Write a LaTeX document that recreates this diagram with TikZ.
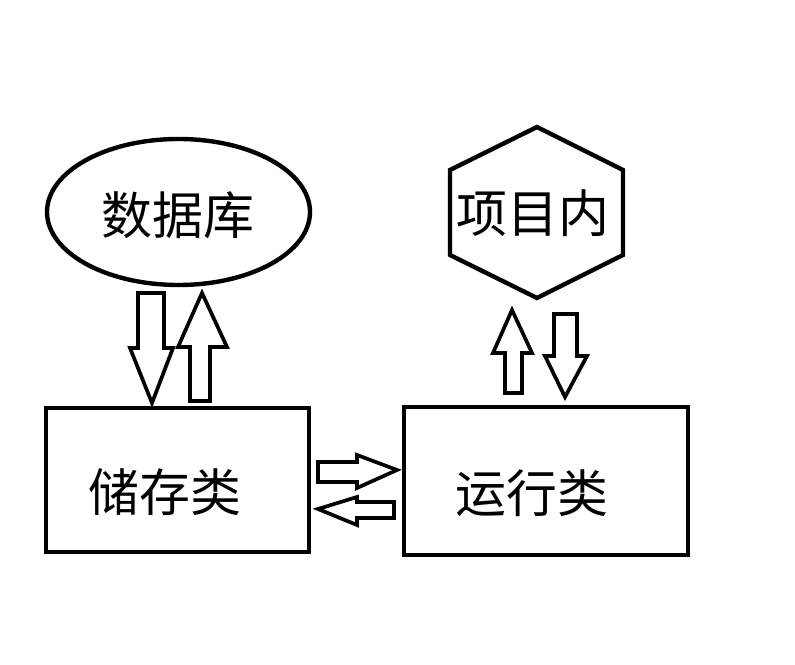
\documentclass[tikz,border=0pt]{standalone}
\usepackage{fontspec}
\newfontfamily\cjk{Noto Sans CJK SC}
\tikzset{
  shapeline/.style={black, line width=2.5pt},
  blockarrow/.style={black, line width=2.1pt, line join=miter},
  label/.style={font=\cjk\fontsize{29}{29}\selectfont, inner sep=0pt},
}
\begin{document}
\begin{tikzpicture}[x=0.02cm, y=-0.02cm]
  \useasboundingbox (0,0) rectangle (795,665);
  % shapes
  \draw[shapeline] (178.5,212) ellipse [x radius=131.5, y radius=73];
  \draw[shapeline]
    (537,127) -- (623,170) -- (623,255) -- (537,298) -- (450,255) -- (450,170) -- cycle;
  \draw[shapeline] (46,408) rectangle (309,552);
  \draw[shapeline] (404,407) rectangle (688,555);
  % texts
  \node[label] (db) at (178,215) {数据库};
  \node[label] (proj) at (533,213) {项目内};
  \node[label] (store) at (165,492) {储存类};
  \node[label] (run) at (532,493) {运行类};
  % block arrows, left pair
  \draw[blockarrow]
    (138,293) -- (164,293) -- (164,348) -- (173,348) -- (152,403)
    -- (130,348) -- (138,348) -- cycle;
  \draw[blockarrow]
    (190,401) -- (210,401) -- (210,347) -- (227,347) -- (202,293)
    -- (178,347) -- (190,347) -- cycle;
  % block arrows, right pair
  \draw[blockarrow]
    (505,393) -- (522,393) -- (522,353) -- (532,353) -- (512,310)
    -- (493,353) -- (505,353) -- cycle;
  \draw[blockarrow]
    (554,314) -- (577,314) -- (577,356) -- (587,356) -- (565,397)
    -- (545,356) -- (554,356) -- cycle;
  % block arrows, between the boxes
  \draw[blockarrow]
    (318,462) -- (357,462) -- (357,455) -- (397,470) -- (357,488)
    -- (357,482) -- (318,482) -- cycle;
  \draw[blockarrow]
    (394,502) -- (357,502) -- (357,497) -- (318,509) -- (357,525)
    -- (357,518) -- (394,518) -- cycle;
\end{tikzpicture}
\end{document}
